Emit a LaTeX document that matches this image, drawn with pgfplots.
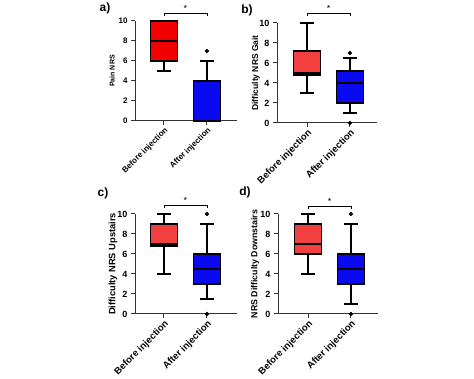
\documentclass[border=0pt]{standalone}
\usepackage{fontspec}
\setmainfont{Liberation Sans}
\usepackage{pgfplots}
\pgfplotsset{compat=1.18}
\usepgfplotslibrary{statistics}

\definecolor{redA}{HTML}{F20000}
\definecolor{redB}{HTML}{F24040}
\definecolor{blueA}{HTML}{0A0AF0}
\definecolor{axisgray}{HTML}{333333}

\newcommand{\fs}[1]{\fontsize{#1}{#1}\selectfont}

\pgfplotsset{
  gp/.style={
    scale only axis, height=100pt,
    ymin=0, ymax=10, ytick={0,2,...,10},
    axis x line*=bottom, axis y line*=left,
    xtick={1,2}, xticklabels={Before injection, After injection},
    tick align=outside, major tick length=4pt,
    axis line style={line width=1pt, axisgray},
    every tick/.style={line width=1pt, axisgray},
    xticklabel style={rotate=45, anchor=north east, inner sep=1pt},
    /pgf/number format/assume math mode=true,
    clip=false,
    boxplot/draw direction=y,
    boxplot/box extend=0.63,
    boxplot/whisker extend=0.32,
  },
  gpbox/.style={line width=1.5pt, draw=black, fill=#1,
    mark=*, mark size=1.9pt, mark options={fill=black, draw=black, line width=0.5pt}},
  ylab/.style={every axis y label/.style={at={(axis description cs:#1,0.5)}, rotate=90, anchor=center}},
}

% significance bracket with star
\newcommand{\sig}[1]{%
  \draw[line width=0.8pt, black] (axis cs:1,#1-0.3) -- (axis cs:1,#1) -- (axis cs:2,#1) -- (axis cs:2,#1-0.3);
  \node[font=\fs{9}] at (axis cs:1.5,#1+0.5) {*};
}

\begin{document}
\begin{tikzpicture}[x=1pt,y=1pt]
\path[use as bounding box] (0,0) rectangle (474,379);

% a) Pain NRS
\begin{axis}[gp, at={(135pt,258pt)}, anchor=south west, width=102pt,
    xmin=0.326, xmax=2.70, ylab=-0.225, ylabel={Pain NRS},
    ylabel style={font=\bfseries\fs{7}},
    yticklabel style={font=\bfseries\fs{8}},
    xticklabel style={font=\bfseries\fs{8}}]
  \addplot[gpbox=redA, boxplot prepared={draw position=1,
      lower whisker=5, lower quartile=6, median=8, upper quartile=10, upper whisker=10}]
    coordinates {};
  \addplot[gpbox=blueA, boxplot prepared={draw position=2,
      lower whisker=0, lower quartile=0, median=0, upper quartile=4, upper whisker=6}]
    table[row sep=\\, y index=0] {y\\ 7\\};
  \sig{10.8}
\end{axis}
\node[font=\bfseries\fs{12}] at (105,371) {a)};

% b) Difficulty NRS Gait
\begin{axis}[gp, at={(277pt,256pt)}, anchor=south west, width=100pt,
    xmin=0.30, xmax=2.63, ylab=-0.21, ylabel={Difficulty NRS Gait},
    ylabel style={font=\bfseries\fs{8.5}},
    yticklabel style={font=\bfseries\fs{9}},
    xticklabel style={font=\bfseries\fs{9.5}}]
  \addplot[gpbox=redB, boxplot prepared={draw position=1,
      lower whisker=3, lower quartile=4.8, median=5, upper quartile=7.2, upper whisker=10}]
    coordinates {};
  \addplot[gpbox=blueA, boxplot prepared={draw position=2,
      lower whisker=1, lower quartile=2, median=4, upper quartile=5.2, upper whisker=6.5}]
    table[row sep=\\, y index=0] {y\\ 7\\ 0\\};
  \sig{11}
\end{axis}
\node[font=\bfseries\fs{12}] at (247,369) {b)};

% c) Difficulty NRS Upstairs
\begin{axis}[gp, at={(135pt,65pt)}, anchor=south west, width=102pt,
    xmin=0.326, xmax=2.70, ylab=-0.215, ylabel={Difficulty NRS Upstairs},
    ylabel style={font=\bfseries\fs{9.3}},
    yticklabel style={font=\bfseries\fs{9}},
    xticklabel style={font=\bfseries\fs{9.5}}]
  \addplot[gpbox=redB, boxplot prepared={draw position=1,
      lower whisker=4, lower quartile=6.8, median=7, upper quartile=9, upper whisker=10}]
    coordinates {};
  \addplot[gpbox=blueA, boxplot prepared={draw position=2,
      lower whisker=1.5, lower quartile=3, median=4.5, upper quartile=6, upper whisker=9}]
    table[row sep=\\, y index=0] {y\\ 10\\ 0\\};
  \sig{10.9}
\end{axis}
\node[font=\bfseries\fs{12}] at (103,186) {c)};

% d) NRS Difficulty Downstairs
\begin{axis}[gp, at={(278pt,65pt)}, anchor=south west, width=100pt,
    xmin=0.30, xmax=2.63, ylab=-0.23, ylabel={NRS Difficulty Downstairs},
    ylabel style={font=\bfseries\fs{8.8}},
    yticklabel style={font=\bfseries\fs{9}},
    xticklabel style={font=\bfseries\fs{9.5}}]
  \addplot[gpbox=redB, boxplot prepared={draw position=1,
      lower whisker=4, lower quartile=6, median=7, upper quartile=9, upper whisker=10}]
    coordinates {};
  \addplot[gpbox=blueA, boxplot prepared={draw position=2,
      lower whisker=1, lower quartile=3, median=4.5, upper quartile=6, upper whisker=9}]
    table[row sep=\\, y index=0] {y\\ 10\\ 0\\};
  \sig{10.8}
\end{axis}
\node[font=\bfseries\fs{12}] at (245,187) {d)};

\end{tikzpicture}
\end{document}
